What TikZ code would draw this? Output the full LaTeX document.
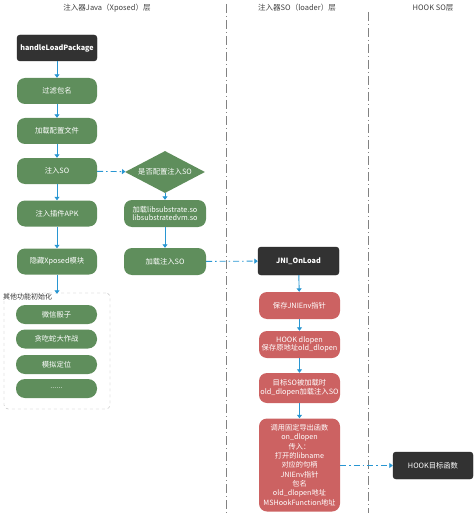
\documentclass[tikz,border=0pt]{standalone}
\usepackage{fontspec}
\setmainfont{Noto Sans CJK SC}
\usetikzlibrary{arrows.meta,shapes.geometric}
\definecolor{gbox}{RGB}{95,142,92}
\definecolor{rbox}{RGB}{204,98,98}
\definecolor{kbox}{RGB}{50,50,50}
\definecolor{conn}{RGB}{40,150,210}
\definecolor{sep}{RGB}{130,130,130}
\begin{document}
\begin{tikzpicture}[x=1pt,y=-1pt,
  base/.style={text=white,align=center,inner sep=1pt,font=\fontsize{7.3}{8.8}\selectfont},
  kb/.style={base,fill=kbox,draw=kbox!70!black,rounded corners=3pt,minimum width=80pt,minimum height=26pt,font=\fontsize{7.3}{8.8}\selectfont},
  gb/.style={base,fill=gbox,rounded corners=8pt,minimum width=80pt,minimum height=26pt},
  rb/.style={base,fill=rbox,rounded corners=8pt,minimum width=81pt,minimum height=27pt},
  pill/.style={base,fill=gbox,rounded corners=9pt,minimum width=81pt,minimum height=19pt},
  ar/.style={draw=conn,line width=0.9pt,-{Triangle[width=5pt,length=3.5pt]}},
  dar/.style={ar,dash pattern=on 6pt off 3pt on 1.5pt off 3pt},
  sepl/.style={draw=sep,line width=0.6pt,dash pattern=on 9pt off 3pt on 1pt off 3pt},
  ttl/.style={text=black!75,font=\fontsize{7.5}{8.5}\selectfont}
]
\useasboundingbox (0,0) rectangle (474,513);
% titles
\node[ttl] (t1) at (107,8) {注入器Java（Xposed）层};
\node[ttl] (t2) at (297,8) {注入器SO（loader）层};
\node[ttl] (t3) at (433,8) {HOOK SO层};
% separators
\coordinate (s1a) at (226,4); \coordinate (s1b) at (226,513);
\coordinate (s2a) at (368,12); \coordinate (s2b) at (368,513);
\draw[sepl] (s1a) -- (s1b);
\draw[sepl] (s2a) -- (s2b);
% left column
\node[kb,font=\fontsize{7.2}{8.5}\selectfont\bfseries] (hlp) at (57,48) {handleLoadPackage};
\node[gb] (n1) at (57,91) {过滤包名};
\node[gb] (n2) at (57,131) {加载配置文件};
\node[gb] (n3) at (57,171) {注入SO};
\node[gb] (n4) at (57,213.5) {注入插件APK};
\node[gb] (n5) at (57,261.5) {隐藏Xposed模块};
% group
\node[draw=black!30,dashed,rounded corners=4pt,minimum width=106pt,minimum height=116pt,inner sep=0pt] (grp) at (57,351) {};
\node[anchor=west,inner sep=0pt,text=black!80,font=\fontsize{7}{7.5}\selectfont] (glbl) at (3,297) {其他功能初始化};
\node[pill] (g1) at (56.5,314.5) {微信骰子};
\node[pill] (g2) at (56.5,339) {贪吃蛇大作战};
\node[pill] (g3) at (56.5,364.5) {模拟定位};
\node[pill] (g4) at (56.5,388.5) {......};
% middle column
\node[base,diamond,fill=gbox,minimum width=80pt,minimum height=42pt,aspect=1.9,inner sep=0pt] (d) at (165,172) {是否配置注入SO};
\node[gb,minimum width=82pt,minimum height=27pt] (m1) at (165,213.5) {加载libsubstrate.so\\libsubstratedvm.so};
\node[gb,minimum width=82pt,minimum height=27pt] (m2) at (165,261.5) {加载注入SO};
% loader column
\node[kb,minimum width=81pt,minimum height=28pt,font=\fontsize{7.2}{8.5}\selectfont\bfseries] (jni) at (298.5,261) {JNI\_OnLoad};
\node[rb] (r1) at (299.5,305.5) {保存JNIEnv指针};
\node[rb] (r2) at (299.5,344.5) {HOOK dlopen\\保存原地址old\_dlopen};
\node[rb,minimum height=30pt] (r3) at (299.5,388) {目标SO被加载时\\old\_dlopen加载注入SO};
\node[rb,minimum height=93pt,font=\fontsize{7.2}{9.3}\selectfont] (r4) at (299.5,465) {调用固定导出函数\\on\_dlopen\\传入：\\打开的libname\\对应的句柄\\JNIEnv指针\\包名\\old\_dlopen地址\\MSHookFunction地址};
% hook column
\node[kb,minimum width=80pt,minimum height=27pt] (hk) at (433,465.5) {HOOK目标函数};
% arrows
\draw[ar] (hlp) -- (n1);
\draw[ar] (n1) -- (n2);
\draw[ar] (n2) -- (n3);
\draw[ar] (n3) -- (n4);
\draw[ar] (n4) -- (n5);
\draw[ar] (n5.south) -- ([yshift=-1pt]grp.north);
\draw[ar] (d) -- (m1);
\draw[ar] (m1) -- (m2);
\draw[ar] (jni) -- (r1);
\draw[ar] (r1) -- (r2);
\draw[ar] (r2) -- (r3);
\draw[ar] (r3) -- (r4);
\draw[dar] (n3) -- (d);
\draw[dar] (m2) -- (jni);
\draw[dar] (r4.east |- hk) -- (hk);
\end{tikzpicture}
\end{document}
